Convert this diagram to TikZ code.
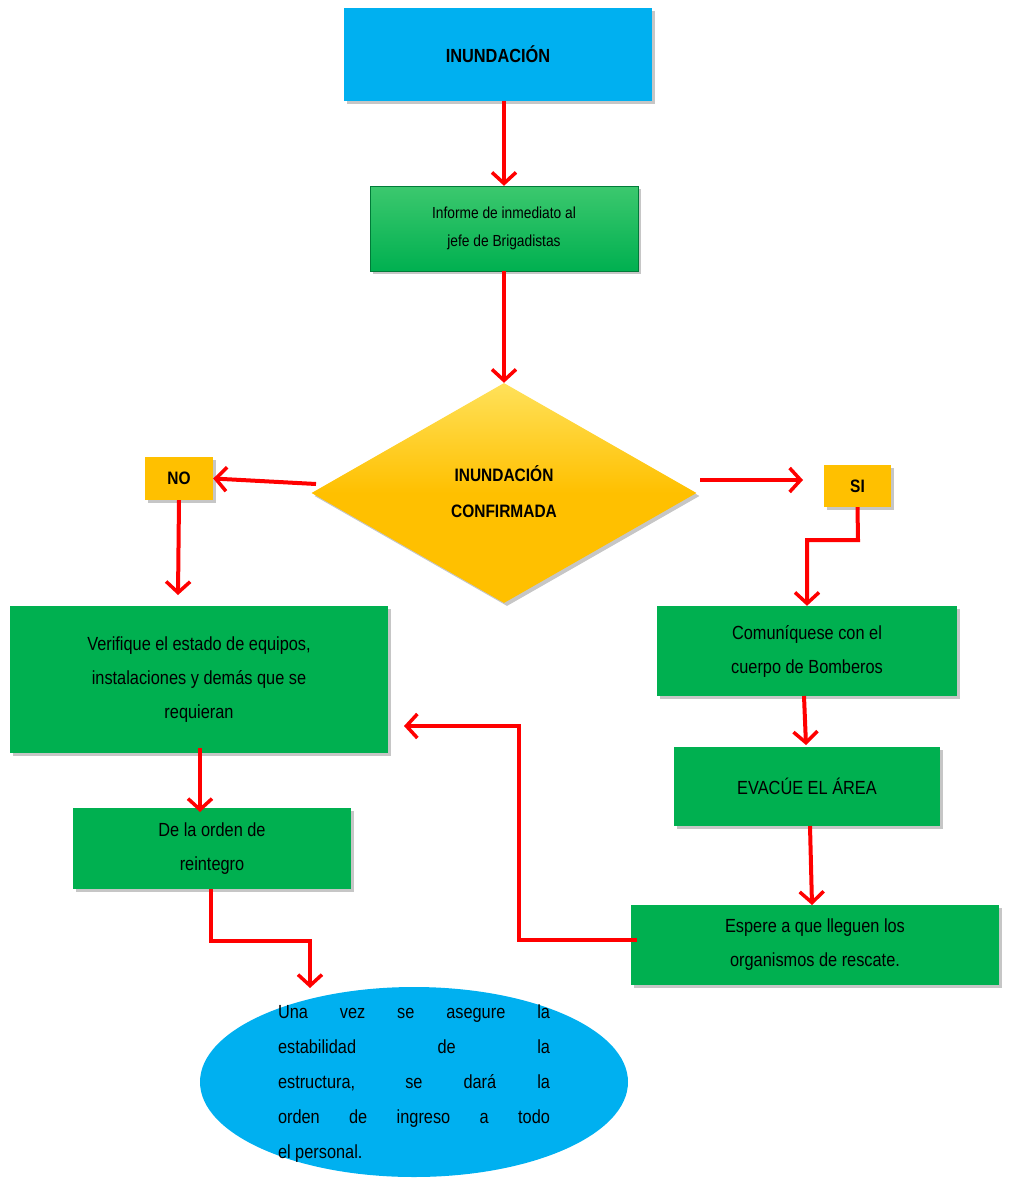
\documentclass[tikz,border=0pt]{standalone}
\usepackage{fontspec}
\setmainfont{Liberation Sans}[FakeStretch=0.86]
\usetikzlibrary{arrows.meta,shapes.geometric,shadows}
\definecolor{cy}{RGB}{0,176,240}
\definecolor{gr}{RGB}{0,176,80}
\definecolor{gr2}{RGB}{60,200,110}
\definecolor{og}{RGB}{255,192,0}
\definecolor{og2}{RGB}{255,225,90}
\begin{document}
\begin{tikzpicture}[x=1pt,y=-1pt,
 sh/.style={drop shadow={opacity=0.45,shadow xshift=3pt,shadow yshift=-3pt}},
 box/.style={draw=none,fill=gr,sh,align=center,inner sep=0pt},
 arr/.style={draw=red,line width=4pt,-{Straight Barb[length=11pt,width=24pt,line width=3.5pt]}},
 ln/.style={draw=red,line width=4pt}]
\useasboundingbox (0,0) rectangle (1010,1188);
\fill[cy,sh] (344,8) rectangle (652,101);
\node[font=\bfseries\fontsize{19}{23}\selectfont] (t) at (498,54) {INUNDACIÓN};
\coordinate (tb) at (504,101);
\node[box,minimum width=268pt,minimum height=85pt,top color=gr2,bottom color=gr,draw=gr!70!black,font=\fontsize{16}{28}\selectfont] (b2) at (504,228.5) {Informe de inmediato al\\jefe de Brigadistas};
\node[diamond,draw=none,shading=axis,top color=og2,bottom color=og,middle color=og,minimum width=385pt,minimum height=220pt,inner sep=0pt,sh,aspect=1.75] (d) at (504,493) {};
\node[align=center,font=\bfseries\fontsize{18}{36}\selectfont] at (504,492) {INUNDACIÓN\\CONFIRMADA};
\node[box,fill=og,minimum width=68pt,minimum height=43pt,font=\bfseries\fontsize{18}{22}\selectfont] (no) at (179,478.5) {NO};
\node[box,fill=og,minimum width=67pt,minimum height=42pt,font=\bfseries\fontsize{18}{22}\selectfont] (si) at (857.5,486) {SI};
\node[box,minimum width=378pt,minimum height=147pt,font=\fontsize{19}{34}\selectfont] (v) at (199,679.5) {Verifique el estado de equipos,\\instalaciones y demás que se\\requieran};
\node[box,minimum width=278pt,minimum height=81pt,font=\fontsize{19}{34}\selectfont] (o) at (212,848.5) {De la orden de\\reintegro};
\node[box,minimum width=300pt,minimum height=90pt,font=\fontsize{19}{34}\selectfont] (c) at (807,651) {Comuníquese con el\\cuerpo de Bomberos};
\node[box,minimum width=266pt,minimum height=79pt,font=\fontsize{19}{23}\selectfont] (e) at (807,786.5) {EVACÚE EL ÁREA};
\node[box,minimum width=368pt,minimum height=80pt,font=\fontsize{19}{34}\selectfont] (s) at (815,945) {Espere a que lleguen los\\organismos de rescate.};
\node[ellipse,fill=cy,draw=none,minimum width=428pt,minimum height=190pt,inner sep=0pt] (el) at (414,1082) {};
\node[align=left,font=\fontsize{19}{35}\selectfont,inner sep=0pt] at (414,1084) {%
\makebox[272pt][s]{Una vez se asegure la}\\
\makebox[272pt][s]{estabilidad de la}\\
\makebox[272pt][s]{estructura, se dará la}\\
\makebox[272pt][s]{orden de ingreso a todo}\\
el personal.};
% arrows
\draw[arr] (tb) -- (b2.north);
\draw[arr] (b2.south) -- (d.north);
\draw[arr] (316,484) -- (no.east);
\draw[arr] (700,480) -- (803,480);
\draw[arr] (no.south) -- (178,595);
\draw[arr] (si.south) -- (858,540) -- (807,540) -- (c.north);
\draw[arr] (804,696) -- (806,745);
\draw[arr] (810,826) -- (812,905);
\draw[arr] (s.west) ++(6,-5) -- (519,940) -- (519,726) -- (404,726);
\draw[arr] (200,748) -- (200,812);
\draw[arr] (211,889) -- (211,941) -- (310,941) -- (310,988);
\end{tikzpicture}
\end{document}
